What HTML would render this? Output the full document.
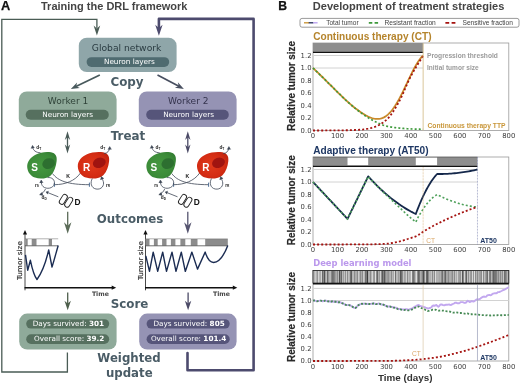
<!DOCTYPE html>
<html lang="en"><head><meta charset="utf-8"><title>DRL framework figure</title>
<style>
html,body{margin:0;padding:0;background:#fff;}
body{width:520px;height:384px;overflow:hidden;font-family:"Liberation Sans","DejaVu Sans",sans-serif;}
svg{display:block;}
</style></head><body>
<svg width="520" height="384" viewBox="0 0 520 384">
<defs>
<radialGradient id="gS" cx="0.45" cy="0.5" r="0.6"><stop offset="0" stop-color="#45983f"/><stop offset="0.7" stop-color="#3c8c39"/><stop offset="1" stop-color="#347f33"/></radialGradient>
<radialGradient id="gR" cx="0.45" cy="0.5" r="0.6"><stop offset="0" stop-color="#e03a1c"/><stop offset="0.7" stop-color="#d42c13"/><stop offset="1" stop-color="#c0240f"/></radialGradient>
</defs>
<rect width="520" height="384" fill="#ffffff"/>
<text x="0.9" y="9.9" font-family='"Liberation Sans", "DejaVu Sans", sans-serif' font-weight="700" font-size="12.8" fill="#111" stroke="#111" stroke-width="0.25">A</text>
<text x="41" y="10" font-family='"Liberation Sans", "DejaVu Sans", sans-serif' font-weight="700" font-size="11.05" fill="#444" textLength="146.5" lengthAdjust="spacingAndGlyphs">Training the DRL framework</text>
<path d="M67.4 352.5 V372 H1.8 V19.4 H96.9 V28" fill="none" stroke="#4a5c55" stroke-width="1.3"/>
<path d="M96.90 35.60 L93.60 25.60 L96.90 28.60 L100.20 25.60 Z" fill="#4a5c55"/>
<path d="M187.5 353 V370.2 H253.6 V18.9 H158.9 V28" fill="none" stroke="#4d4b6e" stroke-width="2.6" stroke-linejoin="round" stroke-linecap="round"/>
<path d="M158.90 35.80 L155.20 24.80 L158.90 28.10 L162.60 24.80 Z" fill="#4d4b6e"/>
<rect x="78.8" y="37.7" width="97.80" height="34.30" rx="8" ry="8" fill="#8fa6a9"/>
<text x="126.6" y="51.2" font-family='"DejaVu Sans", "Liberation Sans", sans-serif' font-weight="400" font-size="9.2" fill="#2a3b41" text-anchor="middle" >Global network</text>
<rect x="86.6" y="57.2" width="82.60" height="9.70" rx="4.85" ry="4.85" fill="#4f6b70"/>
<text x="129.4" y="64" font-family='"DejaVu Sans", "Liberation Sans", sans-serif' font-weight="400" font-size="7.3" fill="#fff" text-anchor="middle" >Neuron layers</text>
<text x="127" y="85.7" font-family='"DejaVu Sans", "Liberation Sans", sans-serif' font-weight="700" font-size="11.9" fill="#4a5c66" text-anchor="middle" >Copy</text>
<line x1="99.8" y1="74.9" x2="75.39" y2="86.68" stroke="#48595c" stroke-width="1.7"/>
<path d="M70.80 88.90 L77.11 82.41 L76.16 86.31 L79.80 88.00 Z" fill="#48595c"/>
<line x1="157.5" y1="74.9" x2="179.39" y2="86.51" stroke="#484f60" stroke-width="1.7"/>
<path d="M183.90 88.90 L174.94 87.66 L178.64 86.11 L177.84 82.18 Z" fill="#484f60"/>
<rect x="18.8" y="91.5" width="97.80" height="35.40" rx="8" ry="8" fill="#8faa9a"/>
<text x="68" y="104.3" font-family='"DejaVu Sans", "Liberation Sans", sans-serif' font-weight="400" font-size="9.05" fill="#2f4238" text-anchor="middle" >Worker 1</text>
<rect x="25.7" y="109.8" width="83.10" height="10.00" rx="5.00" ry="5.00" fill="#56705f"/>
<text x="67.7" y="116.9" font-family='"DejaVu Sans", "Liberation Sans", sans-serif' font-weight="400" font-size="7.3" fill="#fff" text-anchor="middle" >Neuron layers</text>
<rect x="138.8" y="91.5" width="97.80" height="35.40" rx="8" ry="8" fill="#9593b4"/>
<text x="188.3" y="104.3" font-family='"DejaVu Sans", "Liberation Sans", sans-serif' font-weight="400" font-size="9.05" fill="#34334d" text-anchor="middle" >Worker 2</text>
<rect x="146.2" y="109.8" width="82.60" height="10.00" rx="5.00" ry="5.00" fill="#56557a"/>
<text x="188.6" y="116.9" font-family='"DejaVu Sans", "Liberation Sans", sans-serif' font-weight="400" font-size="7.3" fill="#fff" text-anchor="middle" >Neuron layers</text>
<text x="128" y="140.2" font-family='"DejaVu Sans", "Liberation Sans", sans-serif' font-weight="700" font-size="11.9" fill="#4a5c66" text-anchor="middle" >Treat</text>
<line x1="67.5" y1="136.2" x2="67.5" y2="148.4" stroke="#4a5b58" stroke-width="1.3"/>
<path d="M67.50 131.20 L70.20 140.00 L67.50 137.36 L64.80 140.00 Z" fill="#4a5b58"/>
<path d="M67.50 153.40 L64.80 144.60 L67.50 147.24 L70.20 144.60 Z" fill="#4a5b58"/>
<line x1="187.8" y1="136.2" x2="187.8" y2="148.4" stroke="#4b4a66" stroke-width="1.3"/>
<path d="M187.80 131.20 L190.50 140.00 L187.80 137.36 L185.10 140.00 Z" fill="#4b4a66"/>
<path d="M187.80 153.40 L185.10 144.60 L187.80 147.24 L190.50 144.60 Z" fill="#4b4a66"/>
<g transform="translate(0,0)">
<path d="M52.5 173.5 C58 181 68 184.6 89.2 184.7" fill="none" stroke="#3d4655" stroke-width="0.8"/>
<line x1="89.4" y1="182.6" x2="89.4" y2="186.8" stroke="#3b5f8a" stroke-width="0.9"/>
<path d="M80.5 173 C75 181 65 184.6 54.6 184.7" fill="none" stroke="#3d4655" stroke-width="0.8"/>
<line x1="54.4" y1="182.6" x2="54.4" y2="186.8" stroke="#3b5f8a" stroke-width="0.9"/>
<path d="M27.2 167 C26.9 161.2 31 156.8 36 154.4 C40 152.4 46 151.4 51 152.3 C55.6 153.2 57.3 156.4 56.6 161.2 C55.9 166.5 54.5 171.5 51 175.2 C47.5 178.8 40 179.3 35 177.6 C30.5 176 27.5 172 27.2 167 Z" fill="url(#gS)"/>
<ellipse cx="48.6" cy="163.6" rx="6.4" ry="5.3" fill="#2d6f30" transform="rotate(-20 48.6 163.6)"/>
<text x="34.6" y="170.9" font-family='"Liberation Sans", "DejaVu Sans", sans-serif' font-weight="700" font-size="10" fill="#fff" text-anchor="middle">S</text>
<path d="M77.8 166.5 C77.5 160.8 82 156.4 87 154.2 C91.5 152.3 98 151.4 103 152.3 C107.9 153.2 109.7 156.4 109.1 161.2 C108.4 166.5 107 171.5 103.3 175.2 C99.8 178.8 91.5 179.3 86 177.6 C81.3 176 78.1 171.8 77.8 166.5 Z" fill="url(#gR)"/>
<ellipse cx="99.3" cy="162.8" rx="6.6" ry="5" fill="#a01410" transform="rotate(-20 99.3 162.8)"/>
<text x="86.6" y="170.9" font-family='"Liberation Sans", "DejaVu Sans", sans-serif' font-weight="700" font-size="10" fill="#fff" text-anchor="middle">R</text>
<path d="M40.5 152.8 C36 152.6 33 150.5 32.6 146.8" fill="none" stroke="#3d4655" stroke-width="0.8"/>
<path d="M31 148.4 L32.5 145.4 L34.4 148" fill="#3d4655" stroke="#3d4655" stroke-width="0.5"/>
<text x="36.3" y="149.3" font-family='"Liberation Sans", "DejaVu Sans", sans-serif' font-weight="700" font-size="4.8" fill="#222">d<tspan font-size="3.2" dy="0.6">T</tspan></text>
<path d="M104 153.6 C107.5 153.2 109.3 151 109.6 148" fill="none" stroke="#3d4655" stroke-width="0.8"/>
<path d="M108 149.6 L109.7 146.6 L111.4 149.4" fill="#3d4655" stroke="#3d4655" stroke-width="0.5"/>
<text x="100.2" y="149" font-family='"Liberation Sans", "DejaVu Sans", sans-serif' font-weight="700" font-size="4.8" fill="#222">d<tspan font-size="3.2" dy="0.6">T</tspan></text>
<text x="66.3" y="177.5" font-family='"Liberation Sans", "DejaVu Sans", sans-serif' font-weight="700" font-size="5.2" fill="#222">K</text>
<path d="M47.5 177.6 C52 177 55.2 180 54.3 184 C53.4 188.3 46.5 189.8 43 186.5 C41.7 185.2 41.3 183.5 41.3 181.6" fill="none" stroke="#3d4655" stroke-width="0.8"/>
<path d="M39.7 183 L41.2 180 L43 182.8" fill="#3d4655" stroke="#3d4655" stroke-width="0.5"/>
<text x="35" y="186.6" font-family='"Liberation Sans", "DejaVu Sans", sans-serif' font-weight="700" font-size="4.6" fill="#222">r<tspan font-size="3.2" dy="0.6">S</tspan></text>
<path d="M92.3 178.6 C90 182.5 91 188 96 189 C101.5 190 104.5 185.5 103.3 181.5 C102.9 180 102.3 178.8 101.6 177.8" fill="none" stroke="#3d4655" stroke-width="0.8"/>
<path d="M100.6 180 L101.3 176.6 L103.9 178.6" fill="#3d4655" stroke="#3d4655" stroke-width="0.5"/>
<text x="106" y="186.6" font-family='"Liberation Sans", "DejaVu Sans", sans-serif' font-weight="700" font-size="4.6" fill="#222">r<tspan font-size="3.2" dy="0.6">R</tspan></text>
<path d="M45.5 189 C44 192 42.5 193.5 40.4 194.3" fill="none" stroke="#3d4655" stroke-width="0.8"/>
<path d="M42.2 192.3 L39.6 194.7 L43 195.4" fill="#3d4655" stroke="#3d4655" stroke-width="0.5"/>
<text x="41.5" y="199" font-family='"Liberation Sans", "DejaVu Sans", sans-serif' font-weight="700" font-size="4.8" fill="#222">d<tspan font-size="3.2" dy="0.6">D</tspan></text>
<line x1="58.3" y1="196.8" x2="47" y2="192.3" stroke="#3d4655" stroke-width="0.8"/>
<path d="M48.6 191.2 L46 191.9 L47.7 194.2" fill="#3d4655" stroke="#3d4655" stroke-width="0.5"/>
<g transform="rotate(-58 63.3 199.4)"><rect x="57.9" y="196.9" width="10.8" height="5" rx="2.5" fill="#fff" stroke="#222" stroke-width="0.9"/></g>
<g transform="rotate(-58 68.7 202.2)"><rect x="63.3" y="199.7" width="10.8" height="5" rx="2.5" fill="#fff" stroke="#222" stroke-width="0.9"/></g>
<text x="74.6" y="205.3" font-family='"Liberation Sans", "DejaVu Sans", sans-serif' font-weight="700" font-size="8.4" fill="#111">D</text>
</g>
<g transform="translate(119.2,0)">
<path d="M52.5 173.5 C58 181 68 184.6 89.2 184.7" fill="none" stroke="#3d4655" stroke-width="0.8"/>
<line x1="89.4" y1="182.6" x2="89.4" y2="186.8" stroke="#3b5f8a" stroke-width="0.9"/>
<path d="M80.5 173 C75 181 65 184.6 54.6 184.7" fill="none" stroke="#3d4655" stroke-width="0.8"/>
<line x1="54.4" y1="182.6" x2="54.4" y2="186.8" stroke="#3b5f8a" stroke-width="0.9"/>
<path d="M27.2 167 C26.9 161.2 31 156.8 36 154.4 C40 152.4 46 151.4 51 152.3 C55.6 153.2 57.3 156.4 56.6 161.2 C55.9 166.5 54.5 171.5 51 175.2 C47.5 178.8 40 179.3 35 177.6 C30.5 176 27.5 172 27.2 167 Z" fill="url(#gS)"/>
<ellipse cx="48.6" cy="163.6" rx="6.4" ry="5.3" fill="#2d6f30" transform="rotate(-20 48.6 163.6)"/>
<text x="34.6" y="170.9" font-family='"Liberation Sans", "DejaVu Sans", sans-serif' font-weight="700" font-size="10" fill="#fff" text-anchor="middle">S</text>
<path d="M77.8 166.5 C77.5 160.8 82 156.4 87 154.2 C91.5 152.3 98 151.4 103 152.3 C107.9 153.2 109.7 156.4 109.1 161.2 C108.4 166.5 107 171.5 103.3 175.2 C99.8 178.8 91.5 179.3 86 177.6 C81.3 176 78.1 171.8 77.8 166.5 Z" fill="url(#gR)"/>
<ellipse cx="99.3" cy="162.8" rx="6.6" ry="5" fill="#a01410" transform="rotate(-20 99.3 162.8)"/>
<text x="86.6" y="170.9" font-family='"Liberation Sans", "DejaVu Sans", sans-serif' font-weight="700" font-size="10" fill="#fff" text-anchor="middle">R</text>
<path d="M40.5 152.8 C36 152.6 33 150.5 32.6 146.8" fill="none" stroke="#3d4655" stroke-width="0.8"/>
<path d="M31 148.4 L32.5 145.4 L34.4 148" fill="#3d4655" stroke="#3d4655" stroke-width="0.5"/>
<text x="36.3" y="149.3" font-family='"Liberation Sans", "DejaVu Sans", sans-serif' font-weight="700" font-size="4.8" fill="#222">d<tspan font-size="3.2" dy="0.6">T</tspan></text>
<path d="M104 153.6 C107.5 153.2 109.3 151 109.6 148" fill="none" stroke="#3d4655" stroke-width="0.8"/>
<path d="M108 149.6 L109.7 146.6 L111.4 149.4" fill="#3d4655" stroke="#3d4655" stroke-width="0.5"/>
<text x="100.2" y="149" font-family='"Liberation Sans", "DejaVu Sans", sans-serif' font-weight="700" font-size="4.8" fill="#222">d<tspan font-size="3.2" dy="0.6">T</tspan></text>
<text x="66.3" y="177.5" font-family='"Liberation Sans", "DejaVu Sans", sans-serif' font-weight="700" font-size="5.2" fill="#222">K</text>
<path d="M47.5 177.6 C52 177 55.2 180 54.3 184 C53.4 188.3 46.5 189.8 43 186.5 C41.7 185.2 41.3 183.5 41.3 181.6" fill="none" stroke="#3d4655" stroke-width="0.8"/>
<path d="M39.7 183 L41.2 180 L43 182.8" fill="#3d4655" stroke="#3d4655" stroke-width="0.5"/>
<text x="35" y="186.6" font-family='"Liberation Sans", "DejaVu Sans", sans-serif' font-weight="700" font-size="4.6" fill="#222">r<tspan font-size="3.2" dy="0.6">S</tspan></text>
<path d="M92.3 178.6 C90 182.5 91 188 96 189 C101.5 190 104.5 185.5 103.3 181.5 C102.9 180 102.3 178.8 101.6 177.8" fill="none" stroke="#3d4655" stroke-width="0.8"/>
<path d="M100.6 180 L101.3 176.6 L103.9 178.6" fill="#3d4655" stroke="#3d4655" stroke-width="0.5"/>
<text x="106" y="186.6" font-family='"Liberation Sans", "DejaVu Sans", sans-serif' font-weight="700" font-size="4.6" fill="#222">r<tspan font-size="3.2" dy="0.6">R</tspan></text>
<path d="M45.5 189 C44 192 42.5 193.5 40.4 194.3" fill="none" stroke="#3d4655" stroke-width="0.8"/>
<path d="M42.2 192.3 L39.6 194.7 L43 195.4" fill="#3d4655" stroke="#3d4655" stroke-width="0.5"/>
<text x="41.5" y="199" font-family='"Liberation Sans", "DejaVu Sans", sans-serif' font-weight="700" font-size="4.8" fill="#222">d<tspan font-size="3.2" dy="0.6">D</tspan></text>
<line x1="58.3" y1="196.8" x2="47" y2="192.3" stroke="#3d4655" stroke-width="0.8"/>
<path d="M48.6 191.2 L46 191.9 L47.7 194.2" fill="#3d4655" stroke="#3d4655" stroke-width="0.5"/>
<g transform="rotate(-58 63.3 199.4)"><rect x="57.9" y="196.9" width="10.8" height="5" rx="2.5" fill="#fff" stroke="#222" stroke-width="0.9"/></g>
<g transform="rotate(-58 68.7 202.2)"><rect x="63.3" y="199.7" width="10.8" height="5" rx="2.5" fill="#fff" stroke="#222" stroke-width="0.9"/></g>
<text x="74.6" y="205.3" font-family='"Liberation Sans", "DejaVu Sans", sans-serif' font-weight="700" font-size="8.4" fill="#111">D</text>
</g>
<line x1="67.7" y1="211.8" x2="67.7" y2="226.80" stroke="#5b6b58" stroke-width="1.3"/>
<path d="M67.70 233.70 L64.00 222.20 L67.70 225.65 L71.40 222.20 Z" fill="#5b6b58"/>
<line x1="187.8" y1="211.8" x2="187.8" y2="226.80" stroke="#55546f" stroke-width="1.3"/>
<path d="M187.80 233.70 L184.10 222.20 L187.80 225.65 L191.50 222.20 Z" fill="#55546f"/>
<text x="130.1" y="222.6" font-family='"DejaVu Sans", "Liberation Sans", sans-serif' font-weight="700" font-size="11.8" fill="#4a5c66" text-anchor="middle" >Outcomes</text>
<line x1="25" y1="287.7" x2="25" y2="233" stroke="#333" stroke-width="0.9"/>
<path d="M22.9 234.5 L25 230 L27.1 234.5 Z" fill="#111"/>
<line x1="24.5" y1="287.7" x2="113.2" y2="287.7" stroke="#111" stroke-width="1.4"/>
<line x1="25" y1="287.7" x2="25" y2="290.3" stroke="#111" stroke-width="0.8"/>
<path d="M111.7 285.59999999999997 L116.2 287.7 L111.7 289.8 Z" fill="#111"/>
<rect x="25.5" y="239" width="2.20" height="6.6" fill="#8c8c8c"/>
<rect x="31.7" y="239" width="4.80" height="6.6" fill="#8c8c8c"/>
<rect x="48.7" y="239" width="3.30" height="6.6" fill="#8c8c8c"/>
<line x1="25" y1="238.8" x2="58.2" y2="238.8" stroke="#666" stroke-width="0.5"/>
<line x1="25" y1="245.8" x2="58.2" y2="245.8" stroke="#333" stroke-width="0.7"/>
<path d="M25.5 254.8 L27.7 270.2 L30.4 260.3 C32 268 34 275.5 37 279.5 C41 274 45.5 264 48.7 249.9 L52 267 C54 261 56 253 58.2 245.5" fill="none" stroke="#1b2c52" stroke-width="1.4" stroke-linejoin="round"/>
<text transform="translate(22.1,260.6) rotate(-90)" font-family='"DejaVu Sans", "Liberation Sans", sans-serif' font-size="6.8" fill="#2a2a2a" stroke="#2a2a2a" stroke-width="0.15" text-anchor="middle" textLength="39" lengthAdjust="spacingAndGlyphs">Tumor size</text>
<text x="100.4" y="296.4" font-family='"DejaVu Sans", "Liberation Sans", sans-serif' font-weight="700" font-size="6.2" fill="#444" text-anchor="middle">Time</text>
<line x1="145.5" y1="287.7" x2="145.5" y2="233" stroke="#333" stroke-width="0.9"/>
<path d="M143.4 234.5 L145.5 230 L147.6 234.5 Z" fill="#111"/>
<line x1="145.0" y1="287.7" x2="234.3" y2="287.7" stroke="#111" stroke-width="1.4"/>
<line x1="145.5" y1="287.7" x2="145.5" y2="290.3" stroke="#111" stroke-width="0.8"/>
<path d="M232.8 285.59999999999997 L237.3 287.7 L232.8 289.8 Z" fill="#111"/>
<rect x="145.5" y="239" width="4.00" height="6.6" fill="#8c8c8c"/>
<rect x="153.9" y="239" width="3.80" height="6.6" fill="#8c8c8c"/>
<rect x="162.1" y="239" width="4.40" height="6.6" fill="#8c8c8c"/>
<rect x="170.9" y="239" width="4.50" height="6.6" fill="#8c8c8c"/>
<rect x="180.4" y="239" width="4.90" height="6.6" fill="#8c8c8c"/>
<rect x="190.8" y="239" width="6.70" height="6.6" fill="#8c8c8c"/>
<rect x="205.2" y="239" width="22.60" height="6.6" fill="#8c8c8c"/>
<line x1="145.5" y1="238.8" x2="227.8" y2="238.8" stroke="#666" stroke-width="0.5"/>
<line x1="145.5" y1="245.8" x2="227.8" y2="245.8" stroke="#333" stroke-width="0.7"/>
<path d="M145.8 255.9 L149.5 271.4 L153.2 252.1 L157.7 271.4 L162.7 252.1 L166.5 271.4 L172.0 252.1 L176.0 271.4 L181.3 252.1 L185.3 271.4 L191.9 252.1 L197.5 269.1 L205.2 252.1 C207.4 259.2 209.6 262.5 213.6 262.5 C219.6 262.1 224.7 253.7 227.8 245.5" fill="none" stroke="#1b2c52" stroke-width="1.4" stroke-linejoin="round"/>
<text transform="translate(142.6,260.6) rotate(-90)" font-family='"DejaVu Sans", "Liberation Sans", sans-serif' font-size="6.8" fill="#2a2a2a" stroke="#2a2a2a" stroke-width="0.15" text-anchor="middle" textLength="39" lengthAdjust="spacingAndGlyphs">Tumor size</text>
<text x="221.5" y="296.4" font-family='"DejaVu Sans", "Liberation Sans", sans-serif' font-weight="700" font-size="6.2" fill="#444" text-anchor="middle">Time</text>
<line x1="67.7" y1="292.5" x2="67.7" y2="304.50" stroke="#4e5f4c" stroke-width="1.3"/>
<path d="M67.70 310.20 L64.50 300.70 L67.70 303.55 L70.90 300.70 Z" fill="#4e5f4c"/>
<line x1="188.1" y1="292.5" x2="188.1" y2="304.50" stroke="#4b4a66" stroke-width="1.3"/>
<path d="M188.10 310.20 L184.90 300.70 L188.10 303.55 L191.30 300.70 Z" fill="#4b4a66"/>
<text x="129.5" y="308.1" font-family='"DejaVu Sans", "Liberation Sans", sans-serif' font-weight="700" font-size="11.9" fill="#4a5c66" text-anchor="middle" >Score</text>
<rect x="19.2" y="313.6" width="97.40" height="36.00" rx="8" ry="8" fill="#8faa9a"/>
<rect x="26.2" y="319.2" width="83.00" height="9.30" rx="4.65" ry="4.65" fill="#56705f"/>
<rect x="26.2" y="334.3" width="83.00" height="9.70" rx="4.85" ry="4.85" fill="#56705f"/>
<text x="68.4" y="325.7" font-family='"DejaVu Sans", "Liberation Sans", sans-serif' font-size="7.25" fill="#fff" text-anchor="middle">Days survived: <tspan font-weight="700">301</tspan></text>
<text x="69.2" y="341.2" font-family='"DejaVu Sans", "Liberation Sans", sans-serif' font-size="7.25" fill="#fff" text-anchor="middle">Overall score: <tspan font-weight="700">39.2</tspan></text>
<rect x="139.2" y="313.6" width="97.40" height="36.00" rx="8" ry="8" fill="#9593b4"/>
<rect x="146.6" y="319.2" width="83.10" height="9.30" rx="4.65" ry="4.65" fill="#56557a"/>
<rect x="146.6" y="334.3" width="83.10" height="9.70" rx="4.85" ry="4.85" fill="#56557a"/>
<text x="189.1" y="325.7" font-family='"DejaVu Sans", "Liberation Sans", sans-serif' font-size="7.25" fill="#fff" text-anchor="middle">Days survived: <tspan font-weight="700">805</tspan></text>
<text x="188.6" y="341.2" font-family='"DejaVu Sans", "Liberation Sans", sans-serif' font-size="7.25" fill="#fff" text-anchor="middle">Overall score: <tspan font-weight="700">101.4</tspan></text>
<text x="129" y="361.8" font-family='"DejaVu Sans", "Liberation Sans", sans-serif' font-weight="700" font-size="11.75" fill="#4a5c66" text-anchor="middle" >Weighted</text>
<text x="129.3" y="376.8" font-family='"DejaVu Sans", "Liberation Sans", sans-serif' font-weight="700" font-size="11.75" fill="#4a5c66" text-anchor="middle" >update</text>
<text x="278.2" y="9.9" font-family='"Liberation Sans", "DejaVu Sans", sans-serif' font-weight="700" font-size="12.2" fill="#111" stroke="#111" stroke-width="0.25">B</text>
<text x="312.8" y="9.9" font-family='"Liberation Sans", "DejaVu Sans", sans-serif' font-weight="700" font-size="11.05" fill="#444" textLength="191.5" lengthAdjust="spacingAndGlyphs">Development of treatment strategies</text>
<rect x="300" y="18.4" width="219" height="8.8" rx="2" fill="#fff" stroke="#707070" stroke-width="0.7"/>
<line x1="304" y1="22.8" x2="309" y2="22.8" stroke="#c8902c" stroke-width="1.3"/>
<line x1="308.7" y1="22.8" x2="313.3" y2="22.8" stroke="#1f2a55" stroke-width="1.3"/>
<line x1="313" y1="22.8" x2="317.6" y2="22.8" stroke="#b79cf0" stroke-width="1.3"/>
<text x="326.2" y="25" font-family='"Liberation Sans", "DejaVu Sans", sans-serif' font-size="6.55" fill="#444">Total tumor</text>
<line x1="368.8" y1="22.9" x2="378.2" y2="22.9" stroke="#3f9a3c" stroke-width="1.7" stroke-dasharray="3.5 2.3"/>
<text x="384.5" y="25" font-family='"Liberation Sans", "DejaVu Sans", sans-serif' font-size="6.65" fill="#444">Resistant fraction</text>
<line x1="445.4" y1="22.9" x2="455.6" y2="22.9" stroke="#a51310" stroke-width="1.7" stroke-dasharray="3.8 2.4"/>
<text x="462.5" y="25" font-family='"Liberation Sans", "DejaVu Sans", sans-serif' font-size="6.63" fill="#444">Sensitive fraction</text>
<text x="313.2" y="39.8" font-family='"Liberation Sans", "DejaVu Sans", sans-serif' font-weight="700" font-size="10.1" fill="#b5842c">Continuous therapy (CT)</text>
<rect x="313.0" y="43" width="195.8" height="87.5" fill="#fff"/>
<rect x="313.0" y="43" width="195.8" height="87.5" fill="none" stroke="#9a9a9a" stroke-width="0.8"/>
<line x1="313.0" y1="55.50" x2="423.14" y2="55.50" stroke="#d2d2d2" stroke-width="1"/>
<line x1="313.0" y1="68.00" x2="423.14" y2="68.00" stroke="#d2d2d2" stroke-width="1"/>
<rect x="313.00" y="43" width="110.14" height="8.3" fill="#8e8e8e"/>
<line x1="313.0" y1="52.199999999999996" x2="423.14" y2="52.199999999999996" stroke="#111" stroke-width="1.6"/>
<path d="M313.00 68.00 L314.22 69.15 L315.45 70.32 L316.67 71.49 L317.89 72.67 L319.12 73.85 L320.34 75.05 L321.57 76.25 L322.79 77.45 L324.01 78.66 L325.24 79.88 L326.46 81.09 L327.69 82.31 L328.91 83.53 L330.13 84.75 L331.36 85.97 L332.58 87.20 L333.80 88.42 L335.03 89.63 L336.25 90.85 L337.48 92.06 L338.70 93.27 L339.92 94.47 L341.15 95.67 L342.37 96.85 L343.59 98.02 L344.82 99.18 L346.04 100.32 L347.26 101.44 L348.49 102.54 L349.71 103.62 L350.94 104.68 L352.16 105.71 L353.38 106.72 L354.61 107.70 L355.83 108.65 L357.06 109.58 L358.28 110.47 L359.50 111.35 L360.73 112.19 L361.95 113.00 L363.17 113.78 L364.40 114.53 L365.62 115.24 L366.85 115.90 L368.07 116.51 L369.29 117.07 L370.52 117.56 L371.74 117.99 L372.96 118.35 L374.19 118.62 L375.41 118.82 L376.63 118.93 L377.86 118.94 L379.08 118.86 L380.31 118.66 L381.53 118.35 L382.75 117.91 L383.98 117.35 L385.20 116.65 L386.43 115.81 L387.65 114.83 L388.87 113.70 L390.10 112.43 L391.32 111.02 L392.54 109.48 L393.77 107.80 L394.99 106.00 L396.22 104.08 L397.44 102.04 L398.66 99.88 L399.89 97.60 L401.11 95.24 L402.33 92.79 L403.56 90.28 L404.78 87.73 L406.00 85.15 L407.23 82.55 L408.45 79.97 L409.68 77.40 L410.90 74.88 L412.12 72.41 L413.35 70.01 L414.57 67.70 L415.80 65.50 L417.02 63.43 L418.24 61.49 L419.47 59.71 L420.69 58.11 L421.91 56.70 L423.14 55.50" fill="none" stroke="#c98a2b" stroke-width="1.8"/>
<path d="M313.00 68.00 L314.22 69.17 L315.45 70.35 L316.67 71.53 L317.89 72.71 L319.12 73.90 L320.34 75.09 L321.57 76.28 L322.79 77.48 L324.01 78.67 L325.24 79.88 L326.46 81.08 L327.69 82.30 L328.91 83.53 L330.13 84.76 L331.36 85.99 L332.58 87.22 L333.80 88.44 L335.03 89.66 L336.25 90.87 L337.48 92.06 L338.70 93.25 L339.92 94.44 L341.15 95.63 L342.37 96.82 L343.59 98.00 L344.82 99.16 L346.04 100.31 L347.26 101.44 L348.49 102.55 L349.71 103.62 L350.94 104.69 L352.16 105.74 L353.38 106.78 L354.61 107.81 L355.83 108.82 L357.06 109.81 L358.28 110.77 L359.50 111.71 L360.73 112.62 L361.95 113.50 L363.17 114.36 L364.40 115.20 L365.62 116.03 L366.85 116.84 L368.07 117.63 L369.29 118.40 L370.52 119.13 L371.74 119.83 L372.96 120.50 L374.19 121.12 L375.41 121.73 L376.63 122.33 L377.86 122.92 L379.08 123.49 L380.31 124.04 L381.53 124.55 L382.75 125.02 L383.98 125.45 L385.20 125.82 L386.43 126.12 L387.65 126.39 L388.87 126.63 L390.10 126.85 L391.32 127.06 L392.54 127.25 L393.77 127.42 L394.99 127.58 L396.22 127.73 L397.44 127.87 L398.66 128.00 L399.89 128.12 L401.11 128.24 L402.33 128.36 L403.56 128.47 L404.78 128.57 L406.00 128.66 L407.23 128.74 L408.45 128.82 L409.68 128.88 L410.90 128.94 L412.12 128.98 L413.35 129.03 L414.57 129.07 L415.80 129.12 L417.02 129.15 L418.24 129.19 L419.47 129.21 L420.69 129.23 L421.91 129.25 L423.14 129.25" fill="none" stroke="#3f9a3c" stroke-width="1.7" stroke-dasharray="2 2.1"/>
<path d="M313.00 130.50 L314.22 130.50 L315.45 130.50 L316.67 130.50 L317.89 130.49 L319.12 130.49 L320.34 130.49 L321.57 130.48 L322.79 130.48 L324.01 130.47 L325.24 130.46 L326.46 130.46 L327.69 130.45 L328.91 130.44 L330.13 130.43 L331.36 130.42 L332.58 130.41 L333.80 130.40 L335.03 130.39 L336.25 130.38 L337.48 130.38 L338.70 130.36 L339.92 130.35 L341.15 130.34 L342.37 130.32 L343.59 130.30 L344.82 130.29 L346.04 130.26 L347.26 130.24 L348.49 130.22 L349.71 130.19 L350.94 130.16 L352.16 130.12 L353.38 130.07 L354.61 130.02 L355.83 129.96 L357.06 129.90 L358.28 129.83 L359.50 129.75 L360.73 129.66 L361.95 129.56 L363.17 129.44 L364.40 129.29 L365.62 129.11 L366.85 128.89 L368.07 128.65 L369.29 128.38 L370.52 128.08 L371.74 127.77 L372.96 127.42 L374.19 127.06 L375.41 126.65 L376.63 126.17 L377.86 125.61 L379.08 124.98 L380.31 124.28 L381.53 123.52 L382.75 122.69 L383.98 121.81 L385.20 120.87 L386.43 119.88 L387.65 118.75 L388.87 117.42 L390.10 115.92 L391.32 114.26 L392.54 112.48 L393.77 110.58 L394.99 108.60 L396.22 106.56 L397.44 104.47 L398.66 102.38 L399.89 100.14 L401.11 97.68 L402.33 95.05 L403.56 92.29 L404.78 89.46 L406.00 86.62 L407.23 83.81 L408.45 81.09 L409.68 78.51 L410.90 76.12 L412.12 73.88 L413.35 71.68 L414.57 69.53 L415.80 67.44 L417.02 65.40 L418.24 63.42 L419.47 61.50 L420.69 59.64 L421.91 57.85 L423.14 56.12" fill="none" stroke="#a51310" stroke-width="1.8" stroke-dasharray="2 2.1"/>
<line x1="423.14" y1="43" x2="423.14" y2="130.5" stroke="#d6c08e" stroke-width="0.9"/>
<text x="427" y="57.6" font-family='"Liberation Sans", "DejaVu Sans", sans-serif' font-weight="700" font-size="6.65" fill="#9a9a9a" text-anchor="start" >Progression threshold</text>
<text x="427" y="70" font-family='"Liberation Sans", "DejaVu Sans", sans-serif' font-weight="700" font-size="6.56" fill="#9a9a9a" text-anchor="start" >Initial tumor size</text>
<text x="427.5" y="127.8" font-family='"Liberation Sans", "DejaVu Sans", sans-serif' font-weight="700" font-size="6.72" fill="#c9973a" text-anchor="start" >Continuous therapy TTP</text>
<text x="311.5" y="132.90" font-family='"DejaVu Sans", "Liberation Sans", sans-serif' font-size="6.85" fill="#3c3c3c" text-anchor="end">0.0</text>
<text x="311.5" y="120.40" font-family='"DejaVu Sans", "Liberation Sans", sans-serif' font-size="6.85" fill="#3c3c3c" text-anchor="end">0.2</text>
<text x="311.5" y="107.90" font-family='"DejaVu Sans", "Liberation Sans", sans-serif' font-size="6.85" fill="#3c3c3c" text-anchor="end">0.4</text>
<text x="311.5" y="95.40" font-family='"DejaVu Sans", "Liberation Sans", sans-serif' font-size="6.85" fill="#3c3c3c" text-anchor="end">0.6</text>
<text x="311.5" y="82.90" font-family='"DejaVu Sans", "Liberation Sans", sans-serif' font-size="6.85" fill="#3c3c3c" text-anchor="end">0.8</text>
<text x="311.5" y="70.40" font-family='"DejaVu Sans", "Liberation Sans", sans-serif' font-size="6.85" fill="#3c3c3c" text-anchor="end">1.0</text>
<text x="311.5" y="57.90" font-family='"DejaVu Sans", "Liberation Sans", sans-serif' font-size="6.85" fill="#3c3c3c" text-anchor="end">1.2</text>
<text x="313.00" y="138" font-family='"DejaVu Sans", "Liberation Sans", sans-serif' font-size="6.85" fill="#3c3c3c" text-anchor="middle">0</text>
<text x="337.48" y="138" font-family='"DejaVu Sans", "Liberation Sans", sans-serif' font-size="6.85" fill="#3c3c3c" text-anchor="middle">100</text>
<text x="361.95" y="138" font-family='"DejaVu Sans", "Liberation Sans", sans-serif' font-size="6.85" fill="#3c3c3c" text-anchor="middle">200</text>
<text x="386.43" y="138" font-family='"DejaVu Sans", "Liberation Sans", sans-serif' font-size="6.85" fill="#3c3c3c" text-anchor="middle">300</text>
<text x="410.90" y="138" font-family='"DejaVu Sans", "Liberation Sans", sans-serif' font-size="6.85" fill="#3c3c3c" text-anchor="middle">400</text>
<text x="435.38" y="138" font-family='"DejaVu Sans", "Liberation Sans", sans-serif' font-size="6.85" fill="#3c3c3c" text-anchor="middle">500</text>
<text x="459.85" y="138" font-family='"DejaVu Sans", "Liberation Sans", sans-serif' font-size="6.85" fill="#3c3c3c" text-anchor="middle">600</text>
<text x="484.32" y="138" font-family='"DejaVu Sans", "Liberation Sans", sans-serif' font-size="6.85" fill="#3c3c3c" text-anchor="middle">700</text>
<text x="508.80" y="138" font-family='"DejaVu Sans", "Liberation Sans", sans-serif' font-size="6.85" fill="#3c3c3c" text-anchor="middle">800</text>
<text transform="translate(295.2,86) rotate(-90)" font-family='"Liberation Sans", "DejaVu Sans", sans-serif' font-weight="700" font-size="10.1" fill="#2a2a2a" stroke="#2a2a2a" stroke-width="0.2" text-anchor="middle" textLength="90" lengthAdjust="spacingAndGlyphs">Relative tumor size</text>
<text x="313.2" y="153.8" font-family='"Liberation Sans", "DejaVu Sans", sans-serif' font-weight="700" font-size="10.1" fill="#1f3864">Adaptive therapy (AT50)</text>
<rect x="313.0" y="157" width="195.8" height="87.5" fill="#fff"/>
<rect x="313.0" y="157" width="195.8" height="87.5" fill="none" stroke="#9a9a9a" stroke-width="0.8"/>
<line x1="313.0" y1="169.50" x2="477.47" y2="169.50" stroke="#d2d2d2" stroke-width="1"/>
<line x1="313.0" y1="182.00" x2="477.47" y2="182.00" stroke="#d2d2d2" stroke-width="1"/>
<rect x="313.00" y="157" width="34.51" height="8.3" fill="#8e8e8e"/>
<rect x="368.19" y="157" width="47.60" height="8.3" fill="#8e8e8e"/>
<rect x="437.09" y="157" width="40.38" height="8.3" fill="#8e8e8e"/>
<line x1="313.0" y1="166.20000000000002" x2="477.47" y2="166.20000000000002" stroke="#111" stroke-width="1.6"/>
<line x1="313.0" y1="157.2" x2="477.47" y2="157.2" stroke="#555" stroke-width="0.6"/>
<path d="M313.00 182.00 L314.50 183.60 L316.00 185.21 L317.50 186.81 L319.00 188.41 L320.50 190.02 L322.00 191.62 L323.50 193.22 L325.00 194.83 L326.50 196.43 L328.00 198.03 L329.50 199.64 L331.01 201.24 L332.51 202.84 L334.01 204.45 L335.51 206.05 L337.01 207.65 L338.51 209.26 L340.01 210.86 L341.51 212.46 L343.01 214.07 L344.51 215.67 L346.01 217.27 L347.51 218.88 L347.51 218.88 L348.41 217.03 L349.31 215.18 L350.21 213.33 L351.11 211.48 L352.01 209.64 L352.90 207.79 L353.80 205.94 L354.70 204.09 L355.60 202.24 L356.50 200.40 L357.40 198.55 L358.30 196.70 L359.20 194.85 L360.10 193.01 L361.00 191.16 L361.90 189.31 L362.80 187.46 L363.70 185.61 L364.59 183.77 L365.49 181.92 L366.39 180.07 L367.29 178.22 L368.19 176.38 L368.19 176.38 L370.26 178.63 L372.33 180.84 L374.40 182.98 L376.47 185.07 L378.54 187.11 L380.61 189.08 L382.68 191.00 L384.75 192.86 L386.82 194.67 L388.89 196.42 L390.96 198.11 L393.03 199.75 L395.10 201.33 L397.17 202.85 L399.24 204.32 L401.31 205.72 L403.38 207.08 L405.45 208.37 L407.52 209.61 L409.59 210.79 L411.66 211.92 L413.73 212.99 L415.80 214.00 L415.80 214.00 L416.72 211.53 L417.65 209.13 L418.57 206.80 L419.50 204.53 L420.42 202.33 L421.35 200.19 L422.28 198.12 L423.20 196.12 L424.13 194.18 L425.05 192.31 L425.98 190.50 L426.90 188.76 L427.83 187.09 L428.76 185.48 L429.68 183.94 L430.61 182.47 L431.53 181.06 L432.46 179.72 L433.39 178.44 L434.31 177.23 L435.24 176.09 L436.16 175.01 L437.09 174.00 L437.09 174.00 L438.84 174.01 L440.60 174.01 L442.36 173.98 L444.11 173.94 L445.87 173.87 L447.62 173.79 L449.38 173.69 L451.13 173.57 L452.89 173.43 L454.65 173.27 L456.40 173.10 L458.16 172.90 L459.91 172.69 L461.67 172.45 L463.43 172.20 L465.18 171.93 L466.94 171.64 L468.69 171.33 L470.45 171.00 L472.20 170.65 L473.96 170.29 L475.72 169.90 L477.47 169.50" fill="none" stroke="#15284b" stroke-width="1.8" stroke-linejoin="round"/>
<path d="M313.00 182.00 L314.50 183.60 L316.00 185.21 L317.50 186.81 L319.00 188.41 L320.50 190.02 L322.00 191.62 L323.50 193.23 L325.00 194.83 L326.50 196.43 L328.00 198.04 L329.50 199.64 L331.01 201.25 L332.51 202.85 L334.01 204.46 L335.51 206.06 L337.01 207.67 L338.51 209.27 L340.01 210.88 L341.51 212.48 L343.01 214.09 L344.51 215.69 L346.01 217.30 L347.51 218.90 L347.51 218.90 L348.41 217.06 L349.31 215.21 L350.21 213.37 L351.11 211.52 L352.01 209.67 L352.90 207.83 L353.80 205.98 L354.70 204.14 L355.60 202.29 L356.50 200.44 L357.40 198.60 L358.30 196.75 L359.20 194.91 L360.10 193.06 L361.00 191.22 L361.90 189.37 L362.80 187.53 L363.70 185.69 L364.59 183.85 L365.49 182.01 L366.39 180.17 L367.29 178.34 L368.19 176.50 L368.19 176.50 L370.26 178.80 L372.33 181.05 L374.40 183.24 L376.47 185.38 L378.54 187.48 L380.61 189.53 L382.68 191.54 L384.75 193.51 L386.82 195.45 L388.89 197.40 L390.96 199.39 L393.03 201.39 L395.10 203.38 L397.17 205.34 L399.24 207.26 L401.31 209.20 L403.38 211.17 L405.45 213.13 L407.52 215.06 L409.59 216.93 L411.66 218.71 L413.73 220.38 L415.80 222.12 L415.80 222.12 L416.72 220.10 L417.65 218.22 L418.57 216.48 L419.50 214.85 L420.42 213.31 L421.35 211.83 L422.28 210.39 L423.20 208.97 L424.13 207.59 L425.05 206.27 L425.98 205.01 L426.90 203.82 L427.83 202.69 L428.76 201.62 L429.68 200.61 L430.61 199.66 L431.53 198.77 L432.46 197.94 L433.39 197.16 L434.31 196.44 L435.24 195.78 L436.16 195.18 L437.09 194.62 L437.09 194.62 L438.84 195.49 L440.60 196.34 L442.36 197.16 L444.11 197.95 L445.87 198.71 L447.62 199.45 L449.38 200.15 L451.13 200.83 L452.89 201.48 L454.65 202.10 L456.40 202.68 L458.16 203.23 L459.91 203.75 L461.67 204.24 L463.43 204.69 L465.18 205.11 L466.94 205.49 L468.69 205.84 L470.45 206.15 L472.20 206.42 L473.96 206.65 L475.72 206.84 L477.47 207.00" fill="none" stroke="#4ea05a" stroke-width="1.6" stroke-dasharray="2 2.1"/>
<path d="M313.00 244.50 L314.47 244.50 L315.94 244.50 L317.41 244.50 L318.87 244.50 L320.34 244.50 L321.81 244.50 L323.28 244.50 L324.75 244.50 L326.22 244.50 L327.69 244.50 L329.15 244.49 L330.62 244.49 L332.09 244.49 L333.56 244.49 L335.03 244.49 L336.50 244.49 L337.96 244.49 L339.43 244.48 L340.90 244.48 L342.37 244.48 L343.84 244.48 L345.31 244.47 L346.78 244.47 L348.24 244.47 L349.71 244.47 L351.18 244.46 L352.65 244.46 L354.12 244.46 L355.59 244.45 L357.06 244.45 L358.52 244.45 L359.99 244.44 L361.46 244.44 L362.93 244.43 L364.40 244.42 L365.87 244.41 L367.33 244.39 L368.80 244.36 L370.27 244.33 L371.74 244.30 L373.21 244.27 L374.68 244.24 L376.15 244.20 L377.61 244.16 L379.08 244.11 L380.55 244.06 L382.02 243.99 L383.49 243.92 L384.96 243.84 L386.43 243.75 L387.89 243.63 L389.36 243.46 L390.83 243.24 L392.30 242.99 L393.77 242.72 L395.24 242.42 L396.70 242.11 L398.17 241.79 L399.64 241.46 L401.11 241.08 L402.58 240.65 L404.05 240.20 L405.52 239.72 L406.98 239.23 L408.45 238.73 L409.92 238.25 L411.39 237.79 L412.86 237.36 L414.33 236.92 L415.80 236.38 L417.26 235.64 L418.73 234.71 L420.20 233.68 L421.67 232.64 L423.14 231.69 L424.61 230.81 L426.07 229.93 L427.54 229.07 L429.01 228.22 L430.48 227.38 L431.95 226.56 L433.42 225.76 L434.89 224.99 L436.35 224.24 L437.82 223.52 L439.29 222.80 L440.76 222.09 L442.23 221.38 L443.70 220.68 L445.16 219.99 L446.63 219.30 L448.10 218.62 L449.57 217.95 L451.04 217.28 L452.51 216.62 L453.98 215.97 L455.44 215.33 L456.91 214.70 L458.38 214.07 L459.85 213.46 L461.32 212.86 L462.79 212.26 L464.26 211.68 L465.72 211.11 L467.19 210.55 L468.66 210.00 L470.13 209.47 L471.60 208.95 L473.07 208.44 L474.54 207.95 L476.00 207.47 L477.47 207.00" fill="none" stroke="#a51310" stroke-width="1.8" stroke-dasharray="2 2.1"/>
<line x1="423.14" y1="167.3" x2="423.14" y2="244.5" stroke="#d9b27a" stroke-width="0.7" stroke-dasharray="0.8 0.7"/>
<line x1="477.47" y1="157" x2="477.47" y2="244.5" stroke="#7f86b0" stroke-width="0.7" stroke-dasharray="0.8 0.7"/>
<text x="426.3" y="242.8" font-family='"Liberation Sans", "DejaVu Sans", sans-serif' font-weight="400" font-size="6.6" fill="#dba869" text-anchor="start" >CT</text>
<text x="480.3" y="242.8" font-family='"Liberation Sans", "DejaVu Sans", sans-serif' font-weight="700" font-size="7.0" fill="#1f3864" text-anchor="start" >AT50</text>
<text x="311.5" y="246.90" font-family='"DejaVu Sans", "Liberation Sans", sans-serif' font-size="6.85" fill="#3c3c3c" text-anchor="end">0.0</text>
<text x="311.5" y="234.40" font-family='"DejaVu Sans", "Liberation Sans", sans-serif' font-size="6.85" fill="#3c3c3c" text-anchor="end">0.2</text>
<text x="311.5" y="221.90" font-family='"DejaVu Sans", "Liberation Sans", sans-serif' font-size="6.85" fill="#3c3c3c" text-anchor="end">0.4</text>
<text x="311.5" y="209.40" font-family='"DejaVu Sans", "Liberation Sans", sans-serif' font-size="6.85" fill="#3c3c3c" text-anchor="end">0.6</text>
<text x="311.5" y="196.90" font-family='"DejaVu Sans", "Liberation Sans", sans-serif' font-size="6.85" fill="#3c3c3c" text-anchor="end">0.8</text>
<text x="311.5" y="184.40" font-family='"DejaVu Sans", "Liberation Sans", sans-serif' font-size="6.85" fill="#3c3c3c" text-anchor="end">1.0</text>
<text x="311.5" y="171.90" font-family='"DejaVu Sans", "Liberation Sans", sans-serif' font-size="6.85" fill="#3c3c3c" text-anchor="end">1.2</text>
<text x="313.00" y="252" font-family='"DejaVu Sans", "Liberation Sans", sans-serif' font-size="6.85" fill="#3c3c3c" text-anchor="middle">0</text>
<text x="337.48" y="252" font-family='"DejaVu Sans", "Liberation Sans", sans-serif' font-size="6.85" fill="#3c3c3c" text-anchor="middle">100</text>
<text x="361.95" y="252" font-family='"DejaVu Sans", "Liberation Sans", sans-serif' font-size="6.85" fill="#3c3c3c" text-anchor="middle">200</text>
<text x="386.43" y="252" font-family='"DejaVu Sans", "Liberation Sans", sans-serif' font-size="6.85" fill="#3c3c3c" text-anchor="middle">300</text>
<text x="410.90" y="252" font-family='"DejaVu Sans", "Liberation Sans", sans-serif' font-size="6.85" fill="#3c3c3c" text-anchor="middle">400</text>
<text x="435.38" y="252" font-family='"DejaVu Sans", "Liberation Sans", sans-serif' font-size="6.85" fill="#3c3c3c" text-anchor="middle">500</text>
<text x="459.85" y="252" font-family='"DejaVu Sans", "Liberation Sans", sans-serif' font-size="6.85" fill="#3c3c3c" text-anchor="middle">600</text>
<text x="484.32" y="252" font-family='"DejaVu Sans", "Liberation Sans", sans-serif' font-size="6.85" fill="#3c3c3c" text-anchor="middle">700</text>
<text x="508.80" y="252" font-family='"DejaVu Sans", "Liberation Sans", sans-serif' font-size="6.85" fill="#3c3c3c" text-anchor="middle">800</text>
<text transform="translate(295.2,200.2) rotate(-90)" font-family='"Liberation Sans", "DejaVu Sans", sans-serif' font-weight="700" font-size="10.1" fill="#2a2a2a" stroke="#2a2a2a" stroke-width="0.2" text-anchor="middle" textLength="90" lengthAdjust="spacingAndGlyphs">Relative tumor size</text>
<text x="313.2" y="265.7" font-family='"DejaVu Sans", "Liberation Sans", sans-serif' font-weight="700" font-size="8.4" fill="#bb98ec">Deep learning model</text>
<rect x="313.0" y="270.5" width="195.8" height="90.5" fill="#fff"/>
<rect x="313.0" y="270.5" width="195.8" height="90.5" fill="none" stroke="#9a9a9a" stroke-width="0.8"/>
<line x1="313.0" y1="288.40" x2="508.80" y2="288.40" stroke="#d2d2d2" stroke-width="1"/>
<line x1="313.0" y1="300.50" x2="508.80" y2="300.50" stroke="#d2d2d2" stroke-width="1"/>
<rect x="313.0" y="270.5" width="195.8" height="12.6" fill="#8b8b8b"/>
<rect x="313.40" y="270.5" width="0.70" height="12.6" fill="#f0f0f0"/><rect x="314.70" y="270.5" width="0.85" height="12.6" fill="#ffffff"/><rect x="316.15" y="270.5" width="0.45" height="12.6" fill="#e2e2e2"/><rect x="317.90" y="270.5" width="0.85" height="12.6" fill="#f0f0f0"/><rect x="319.55" y="270.5" width="0.70" height="12.6" fill="#e8e8e8"/><rect x="320.85" y="270.5" width="1.00" height="12.6" fill="#e2e2e2"/><rect x="322.45" y="270.5" width="0.55" height="12.6" fill="#505050"/><rect x="324.00" y="270.5" width="0.70" height="12.6" fill="#3c3c3c"/><rect x="325.70" y="270.5" width="1.00" height="12.6" fill="#d4d4d4"/><rect x="327.50" y="270.5" width="0.70" height="12.6" fill="#505050"/><rect x="328.80" y="270.5" width="0.55" height="12.6" fill="#ffffff"/><rect x="330.35" y="270.5" width="0.85" height="12.6" fill="#d4d4d4"/><rect x="331.80" y="270.5" width="0.55" height="12.6" fill="#3c3c3c"/><rect x="333.65" y="270.5" width="0.45" height="12.6" fill="#505050"/><rect x="335.80" y="270.5" width="0.55" height="12.6" fill="#e8e8e8"/><rect x="338.05" y="270.5" width="0.45" height="12.6" fill="#f0f0f0"/><rect x="339.10" y="270.5" width="0.70" height="12.6" fill="#3c3c3c"/><rect x="341.50" y="270.5" width="0.45" height="12.6" fill="#3c3c3c"/><rect x="342.55" y="270.5" width="0.55" height="12.6" fill="#f0f0f0"/><rect x="343.90" y="270.5" width="0.70" height="12.6" fill="#e8e8e8"/><rect x="345.90" y="270.5" width="1.00" height="12.6" fill="#d4d4d4"/><rect x="348.20" y="270.5" width="0.45" height="12.6" fill="#ffffff"/><rect x="349.25" y="270.5" width="0.45" height="12.6" fill="#e2e2e2"/><rect x="350.70" y="270.5" width="0.85" height="12.6" fill="#3c3c3c"/><rect x="352.15" y="270.5" width="0.45" height="12.6" fill="#e8e8e8"/><rect x="353.40" y="270.5" width="0.55" height="12.6" fill="#e2e2e2"/><rect x="355.65" y="270.5" width="0.70" height="12.6" fill="#e8e8e8"/><rect x="358.05" y="270.5" width="0.70" height="12.6" fill="#e8e8e8"/><rect x="359.35" y="270.5" width="0.45" height="12.6" fill="#e2e2e2"/><rect x="361.10" y="270.5" width="0.45" height="12.6" fill="#d4d4d4"/><rect x="363.25" y="270.5" width="0.55" height="12.6" fill="#ffffff"/><rect x="364.60" y="270.5" width="0.45" height="12.6" fill="#ffffff"/><rect x="365.65" y="270.5" width="0.55" height="12.6" fill="#3c3c3c"/><rect x="367.00" y="270.5" width="1.00" height="12.6" fill="#3c3c3c"/><rect x="368.60" y="270.5" width="0.85" height="12.6" fill="#e2e2e2"/><rect x="371.15" y="270.5" width="0.45" height="12.6" fill="#e8e8e8"/><rect x="372.20" y="270.5" width="1.00" height="12.6" fill="#e8e8e8"/><rect x="374.90" y="270.5" width="0.85" height="12.6" fill="#ffffff"/><rect x="377.05" y="270.5" width="0.45" height="12.6" fill="#3c3c3c"/><rect x="378.50" y="270.5" width="0.70" height="12.6" fill="#d4d4d4"/><rect x="380.00" y="270.5" width="0.70" height="12.6" fill="#f0f0f0"/><rect x="382.40" y="270.5" width="0.70" height="12.6" fill="#3c3c3c"/><rect x="384.10" y="270.5" width="0.85" height="12.6" fill="#505050"/><rect x="386.65" y="270.5" width="0.55" height="12.6" fill="#d4d4d4"/><rect x="388.90" y="270.5" width="0.55" height="12.6" fill="#d4d4d4"/><rect x="390.25" y="270.5" width="0.45" height="12.6" fill="#e8e8e8"/><rect x="392.40" y="270.5" width="1.00" height="12.6" fill="#d4d4d4"/><rect x="394.00" y="270.5" width="0.85" height="12.6" fill="#e8e8e8"/><rect x="395.45" y="270.5" width="0.45" height="12.6" fill="#505050"/><rect x="396.50" y="270.5" width="1.00" height="12.6" fill="#e8e8e8"/><rect x="398.80" y="270.5" width="0.55" height="12.6" fill="#e2e2e2"/><rect x="400.35" y="270.5" width="1.00" height="12.6" fill="#3c3c3c"/><rect x="403.05" y="270.5" width="0.55" height="12.6" fill="#f0f0f0"/><rect x="404.60" y="270.5" width="0.55" height="12.6" fill="#c6c6c6"/><rect x="405.75" y="270.5" width="1.00" height="12.6" fill="#e8e8e8"/><rect x="408.45" y="270.5" width="0.70" height="12.6" fill="#e8e8e8"/><rect x="409.75" y="270.5" width="0.70" height="12.6" fill="#e8e8e8"/><rect x="411.05" y="270.5" width="1.00" height="12.6" fill="#e8e8e8"/><rect x="412.85" y="270.5" width="0.45" height="12.6" fill="#3c3c3c"/><rect x="415.00" y="270.5" width="0.45" height="12.6" fill="#f0f0f0"/><rect x="416.05" y="270.5" width="1.00" height="12.6" fill="#e2e2e2"/><rect x="418.35" y="270.5" width="1.00" height="12.6" fill="#505050"/><rect x="420.65" y="270.5" width="0.55" height="12.6" fill="#f0f0f0"/><rect x="422.90" y="270.5" width="0.85" height="12.6" fill="#3c3c3c"/><rect x="425.45" y="270.5" width="0.55" height="12.6" fill="#ffffff"/><rect x="426.60" y="270.5" width="1.00" height="12.6" fill="#3c3c3c"/><rect x="429.30" y="270.5" width="0.70" height="12.6" fill="#c6c6c6"/><rect x="430.60" y="270.5" width="1.00" height="12.6" fill="#e8e8e8"/><rect x="433.30" y="270.5" width="0.70" height="12.6" fill="#d4d4d4"/><rect x="435.30" y="270.5" width="1.00" height="12.6" fill="#ffffff"/><rect x="437.10" y="270.5" width="0.55" height="12.6" fill="#d4d4d4"/><rect x="438.65" y="270.5" width="0.55" height="12.6" fill="#f0f0f0"/><rect x="439.80" y="270.5" width="0.85" height="12.6" fill="#c6c6c6"/><rect x="442.35" y="270.5" width="0.45" height="12.6" fill="#505050"/><rect x="443.40" y="270.5" width="0.55" height="12.6" fill="#c6c6c6"/><rect x="444.95" y="270.5" width="0.70" height="12.6" fill="#505050"/><rect x="446.65" y="270.5" width="0.70" height="12.6" fill="#d4d4d4"/><rect x="449.05" y="270.5" width="0.55" height="12.6" fill="#c6c6c6"/><rect x="450.40" y="270.5" width="1.00" height="12.6" fill="#c6c6c6"/><rect x="453.10" y="270.5" width="0.55" height="12.6" fill="#e2e2e2"/><rect x="455.35" y="270.5" width="1.00" height="12.6" fill="#e2e2e2"/><rect x="456.95" y="270.5" width="1.00" height="12.6" fill="#d4d4d4"/><rect x="458.75" y="270.5" width="0.45" height="12.6" fill="#e2e2e2"/><rect x="460.90" y="270.5" width="0.85" height="12.6" fill="#e8e8e8"/><rect x="462.35" y="270.5" width="0.70" height="12.6" fill="#3c3c3c"/><rect x="464.35" y="270.5" width="0.70" height="12.6" fill="#ffffff"/><rect x="466.05" y="270.5" width="0.70" height="12.6" fill="#505050"/><rect x="467.35" y="270.5" width="0.70" height="12.6" fill="#e2e2e2"/><rect x="469.35" y="270.5" width="0.85" height="12.6" fill="#e2e2e2"/><rect x="471.90" y="270.5" width="1.00" height="12.6" fill="#e2e2e2"/><rect x="473.90" y="270.5" width="1.00" height="12.6" fill="#e8e8e8"/><rect x="476.20" y="270.5" width="0.45" height="12.6" fill="#e8e8e8"/><rect x="478.35" y="270.5" width="0.45" height="12.6" fill="#e8e8e8"/><rect x="479.60" y="270.5" width="0.70" height="12.6" fill="#c6c6c6"/><rect x="482.00" y="270.5" width="0.70" height="12.6" fill="#ffffff"/><rect x="484.40" y="270.5" width="0.85" height="12.6" fill="#e2e2e2"/><rect x="486.95" y="270.5" width="0.55" height="12.6" fill="#505050"/><rect x="488.30" y="270.5" width="0.85" height="12.6" fill="#f0f0f0"/><rect x="489.75" y="270.5" width="0.45" height="12.6" fill="#3c3c3c"/><rect x="491.50" y="270.5" width="0.55" height="12.6" fill="#e2e2e2"/><rect x="493.35" y="270.5" width="1.00" height="12.6" fill="#505050"/><rect x="495.65" y="270.5" width="0.55" height="12.6" fill="#505050"/><rect x="497.50" y="270.5" width="0.45" height="12.6" fill="#c6c6c6"/><rect x="499.25" y="270.5" width="0.45" height="12.6" fill="#e2e2e2"/><rect x="501.40" y="270.5" width="0.55" height="12.6" fill="#d4d4d4"/><rect x="502.95" y="270.5" width="0.70" height="12.6" fill="#e8e8e8"/><rect x="504.65" y="270.5" width="0.55" height="12.6" fill="#3c3c3c"/><rect x="506.90" y="270.5" width="0.70" height="12.6" fill="#d4d4d4"/>
<rect x="313.0" y="270.5" width="195.8" height="12.6" fill="none" stroke="#2a2a2a" stroke-width="0.9"/>
<line x1="313.0" y1="283.8" x2="508.8" y2="283.8" stroke="#111" stroke-width="1.6"/>
<path d="M313.00 300.64 L313.98 300.46 L314.96 300.71 L315.94 300.91 L316.92 301.23 L317.89 301.06 L318.87 300.89 L319.85 300.61 L320.83 300.58 L321.81 300.98 L322.79 301.29 L323.77 301.17 L324.75 300.66 L325.73 300.66 L326.71 301.00 L327.69 301.24 L328.66 301.40 L329.64 301.67 L330.62 301.94 L331.60 301.50 L332.58 301.46 L333.56 301.72 L334.54 301.75 L335.52 301.69 L336.50 301.78 L337.48 302.20 L338.45 302.22 L339.43 302.10 L340.41 302.47 L341.39 302.75 L342.37 303.27 L343.35 303.50 L344.33 304.23 L345.31 304.64 L346.29 305.03 L347.26 305.12 L348.24 305.04 L349.22 305.04 L350.20 305.47 L351.18 305.88 L352.16 306.46 L353.14 307.11 L354.12 307.90 L355.10 307.94 L356.08 307.55 L357.06 306.31 L358.03 305.36 L359.01 304.74 L359.99 304.38 L360.97 304.05 L361.95 303.71 L362.93 303.76 L363.91 303.58 L364.89 303.66 L365.87 303.77 L366.85 304.03 L367.82 303.80 L368.80 303.95 L369.78 303.91 L370.76 303.90 L371.74 303.82 L372.72 303.51 L373.70 303.39 L374.68 303.44 L375.66 304.09 L376.63 303.96 L377.61 303.84 L378.59 303.53 L379.57 303.66 L380.55 304.06 L381.53 304.54 L382.51 304.59 L383.49 304.63 L384.47 305.10 L385.45 305.78 L386.43 306.03 L387.40 306.47 L388.38 306.46 L389.36 306.52 L390.34 306.41 L391.32 306.84 L392.30 306.94 L393.28 307.38 L394.26 307.38 L395.24 307.56 L396.22 307.74 L397.19 308.38 L398.17 308.86 L399.15 309.02 L400.13 309.05 L401.11 309.08 L402.09 309.29 L403.07 309.46 L404.05 309.51 L405.03 309.32 L406.00 309.28 L406.98 309.26 L407.96 309.57 L408.94 309.45 L409.92 309.28 L410.90 308.80 L411.88 308.70 L412.86 307.99 L413.84 307.34 L414.82 306.65 L415.80 306.30 L416.77 305.53 L417.75 305.19 L418.73 304.97 L419.71 305.77 L420.69 306.05 L421.67 306.45 L422.65 306.51 L423.63 307.01 L424.61 307.11 L425.58 307.56 L426.56 307.94 L427.54 308.46 L428.52 308.44 L429.50 308.02 L430.48 307.86 L431.46 307.27 L432.44 305.87 L433.42 305.50 L434.40 305.87 L435.38 305.31 L436.35 304.94 L437.33 306.03 L438.31 306.69 L439.29 305.89 L440.27 304.73 L441.25 304.39 L442.23 304.74 L443.21 305.12 L444.19 305.37 L445.16 304.97 L446.14 304.68 L447.12 304.76 L448.10 304.59 L449.08 304.50 L450.06 304.87 L451.04 305.00 L452.02 304.35 L453.00 303.95 L453.98 303.50 L454.96 302.72 L455.93 302.60 L456.91 303.00 L457.89 303.35 L458.87 303.32 L459.85 302.75 L460.83 302.09 L461.81 302.09 L462.79 302.16 L463.77 302.52 L464.75 302.94 L465.72 302.76 L466.70 301.79 L467.68 300.66 L468.66 301.33 L469.64 302.11 L470.62 301.61 L471.60 301.04 L472.58 301.30 L473.56 301.48 L474.54 301.18 L475.51 300.18 L476.49 299.48 L477.47 299.37 L478.45 299.31 L479.43 299.09 L480.41 298.60 L481.39 297.80 L482.37 297.17 L483.35 296.71 L484.32 296.52 L485.30 296.90 L486.28 296.54 L487.26 295.42 L488.24 295.09 L489.22 294.85 L490.20 295.23 L491.18 295.09 L492.16 294.18 L493.14 293.63 L494.12 293.42 L495.09 293.25 L496.07 293.42 L497.05 292.88 L498.03 292.12 L499.01 292.12 L499.99 291.75 L500.97 291.26 L501.95 290.73 L502.93 290.11 L503.90 290.01 L504.88 289.50 L505.86 288.80 L506.84 288.26 L507.82 287.70 L508.80 287.34" fill="none" stroke="#c2a8ef" stroke-width="1.9" stroke-linejoin="round"/>
<path d="M313.00 300.64 L313.98 300.46 L314.96 300.71 L315.94 300.91 L316.92 301.23 L317.89 301.06 L318.87 300.89 L319.85 300.61 L320.83 300.58 L321.81 300.98 L322.79 301.29 L323.77 301.18 L324.75 300.66 L325.73 300.66 L326.71 301.00 L327.69 301.25 L328.66 301.40 L329.64 301.68 L330.62 301.94 L331.60 301.51 L332.58 301.46 L333.56 301.73 L334.54 301.76 L335.52 301.70 L336.50 301.79 L337.48 302.21 L338.45 302.24 L339.43 302.12 L340.41 302.49 L341.39 302.76 L342.37 303.29 L343.35 303.52 L344.33 304.25 L345.31 304.66 L346.29 305.05 L347.26 305.15 L348.24 305.07 L349.22 305.06 L350.20 305.50 L351.18 305.91 L352.16 306.49 L353.14 307.14 L354.12 307.94 L355.10 307.98 L356.08 307.59 L357.06 306.35 L358.03 305.40 L359.01 304.79 L359.99 304.43 L360.97 304.10 L361.95 303.76 L362.93 303.81 L363.91 303.63 L364.89 303.72 L365.87 303.83 L366.85 304.10 L367.82 303.86 L368.80 304.02 L369.78 303.98 L370.76 303.97 L371.74 303.89 L372.72 303.59 L373.70 303.47 L374.68 303.52 L375.66 304.18 L376.63 304.04 L377.61 303.93 L378.59 303.63 L379.57 303.76 L380.55 304.16 L381.53 304.64 L382.51 304.70 L383.49 304.74 L384.47 305.21 L385.45 305.89 L386.43 306.15 L387.40 306.60 L388.38 306.59 L389.36 306.67 L390.34 306.57 L391.32 307.01 L392.30 307.14 L393.28 307.59 L394.26 307.62 L395.24 307.83 L396.22 308.03 L397.19 308.70 L398.17 309.22 L399.15 309.41 L400.13 309.47 L401.11 309.55 L402.09 309.79 L403.07 310.01 L404.05 310.10 L405.03 309.95 L406.00 309.95 L406.98 309.98 L407.96 310.33 L408.94 310.26 L409.92 310.14 L410.90 309.71 L411.88 309.62 L412.86 308.99 L413.84 308.41 L414.82 307.77 L415.80 307.48 L416.77 306.81 L417.75 306.66 L418.73 306.62 L419.71 307.28 L420.69 307.51 L421.67 308.18 L422.65 308.33 L423.63 308.93 L424.61 309.35 L425.58 309.97 L426.56 310.47 L427.54 311.01 L428.52 310.96 L429.50 310.79 L430.48 310.60 L431.46 310.19 L432.44 309.71 L433.42 309.80 L434.40 309.87 L435.38 309.71 L436.35 309.80 L437.33 310.27 L438.31 310.57 L439.29 310.60 L440.27 310.50 L441.25 310.51 L442.23 310.62 L443.21 310.62 L444.19 310.76 L445.16 310.87 L446.14 311.16 L447.12 311.28 L448.10 311.30 L449.08 311.37 L450.06 311.66 L451.04 312.24 L452.02 312.41 L453.00 312.57 L453.98 312.54 L454.96 312.25 L455.93 312.19 L456.91 312.38 L457.89 312.73 L458.87 312.87 L459.85 313.02 L460.83 312.99 L461.81 313.05 L462.79 313.19 L463.77 313.40 L464.75 313.73 L465.72 313.92 L466.70 313.69 L467.68 313.44 L468.66 313.79 L469.64 314.07 L470.62 314.24 L471.60 314.16 L472.58 314.32 L473.56 314.40 L474.54 314.45 L475.51 314.45 L476.49 314.58 L477.47 314.61 L478.45 314.72 L479.43 314.81 L480.41 314.95 L481.39 315.05 L482.37 315.09 L483.35 315.16 L484.32 315.21 L485.30 315.28 L486.28 315.37 L487.26 315.22 L488.24 315.37 L489.22 315.41 L490.20 315.50 L491.18 315.29 L492.16 315.26 L493.14 315.32 L494.12 315.39 L495.09 315.41 L496.07 315.38 L497.05 315.24 L498.03 315.07 L499.01 315.06 L499.99 315.19 L500.97 315.26 L501.95 315.25 L502.93 315.25 L503.90 315.22 L504.88 315.07 L505.86 315.03 L506.84 315.00 L507.82 315.00 L508.80 314.95" fill="none" stroke="#478a55" stroke-width="1.8" stroke-dasharray="2 1.7"/>
<path d="M313.00 361.00 L313.98 361.00 L314.96 361.00 L315.94 361.00 L316.92 361.00 L317.89 361.00 L318.87 361.00 L319.85 361.00 L320.83 361.00 L321.81 361.00 L322.79 361.00 L323.77 361.00 L324.75 361.00 L325.73 361.00 L326.71 361.00 L327.69 361.00 L328.66 361.00 L329.64 360.99 L330.62 360.99 L331.60 360.99 L332.58 360.99 L333.56 360.99 L334.54 360.99 L335.52 360.99 L336.50 360.99 L337.48 360.99 L338.45 360.99 L339.43 360.99 L340.41 360.99 L341.39 360.98 L342.37 360.98 L343.35 360.98 L344.33 360.98 L345.31 360.98 L346.29 360.98 L347.26 360.98 L348.24 360.98 L349.22 360.97 L350.20 360.97 L351.18 360.97 L352.16 360.97 L353.14 360.97 L354.12 360.97 L355.10 360.96 L356.08 360.96 L357.06 360.96 L358.03 360.96 L359.01 360.96 L359.99 360.95 L360.97 360.95 L361.95 360.95 L362.93 360.95 L363.91 360.95 L364.89 360.94 L365.87 360.94 L366.85 360.94 L367.82 360.94 L368.80 360.93 L369.78 360.93 L370.76 360.93 L371.74 360.93 L372.72 360.92 L373.70 360.92 L374.68 360.92 L375.66 360.91 L376.63 360.91 L377.61 360.91 L378.59 360.91 L379.57 360.90 L380.55 360.90 L381.53 360.90 L382.51 360.89 L383.49 360.89 L384.47 360.89 L385.45 360.88 L386.43 360.88 L387.40 360.87 L388.38 360.87 L389.36 360.85 L390.34 360.84 L391.32 360.82 L392.30 360.80 L393.28 360.78 L394.26 360.76 L395.24 360.73 L396.22 360.70 L397.19 360.67 L398.17 360.64 L399.15 360.61 L400.13 360.57 L401.11 360.53 L402.09 360.49 L403.07 360.45 L404.05 360.41 L405.03 360.37 L406.00 360.33 L406.98 360.28 L407.96 360.23 L408.94 360.19 L409.92 360.14 L410.90 360.09 L411.88 360.04 L412.86 359.99 L413.84 359.92 L414.82 359.86 L415.80 359.78 L416.77 359.71 L417.75 359.63 L418.73 359.54 L419.71 359.45 L420.69 359.36 L421.67 359.26 L422.65 359.15 L423.63 359.05 L424.61 358.94 L425.58 358.83 L426.56 358.71 L427.54 358.59 L428.52 358.47 L429.50 358.34 L430.48 358.22 L431.46 358.09 L432.44 357.96 L433.42 357.82 L434.40 357.69 L435.38 357.55 L436.35 357.41 L437.33 357.26 L438.31 357.10 L439.29 356.93 L440.27 356.76 L441.25 356.58 L442.23 356.39 L443.21 356.20 L444.19 355.99 L445.16 355.79 L446.14 355.58 L447.12 355.36 L448.10 355.14 L449.08 354.91 L450.06 354.68 L451.04 354.45 L452.02 354.21 L453.00 353.97 L453.98 353.72 L454.96 353.48 L455.93 353.23 L456.91 352.98 L457.89 352.73 L458.87 352.48 L459.85 352.23 L460.83 351.97 L461.81 351.71 L462.79 351.43 L463.77 351.16 L464.75 350.87 L465.72 350.58 L466.70 350.28 L467.68 349.98 L468.66 349.67 L469.64 349.36 L470.62 349.04 L471.60 348.73 L472.58 348.41 L473.56 348.08 L474.54 347.76 L475.51 347.43 L476.49 347.11 L477.47 346.78 L478.45 346.45 L479.43 346.11 L480.41 345.77 L481.39 345.42 L482.37 345.07 L483.35 344.72 L484.32 344.36 L485.30 344.01 L486.28 343.65 L487.26 343.30 L488.24 342.94 L489.22 342.58 L490.20 342.22 L491.18 341.85 L492.16 341.49 L493.14 341.12 L494.12 340.76 L495.09 340.38 L496.07 340.01 L497.05 339.64 L498.03 339.26 L499.01 338.88 L499.99 338.50 L500.97 338.12 L501.95 337.73 L502.93 337.35 L503.90 336.96 L504.88 336.57 L505.86 336.17 L506.84 335.78 L507.82 335.38 L508.80 334.99" fill="none" stroke="#a51310" stroke-width="1.8" stroke-dasharray="2 2.1"/>
<line x1="423.14" y1="285.1" x2="423.14" y2="361" stroke="#e0cfb4" stroke-width="0.8"/>
<line x1="477.47" y1="285.1" x2="477.47" y2="361" stroke="#a3a8c0" stroke-width="0.8"/>
<text x="412" y="356" font-family='"Liberation Sans", "DejaVu Sans", sans-serif' font-weight="400" font-size="6.6" fill="#dba869" text-anchor="start" >CT</text>
<text x="480.3" y="359.6" font-family='"Liberation Sans", "DejaVu Sans", sans-serif' font-weight="700" font-size="7.0" fill="#1f3864" text-anchor="start" >AT50</text>
<text x="311.5" y="363.40" font-family='"DejaVu Sans", "Liberation Sans", sans-serif' font-size="6.85" fill="#3c3c3c" text-anchor="end">0.0</text>
<text x="311.5" y="351.30" font-family='"DejaVu Sans", "Liberation Sans", sans-serif' font-size="6.85" fill="#3c3c3c" text-anchor="end">0.2</text>
<text x="311.5" y="339.20" font-family='"DejaVu Sans", "Liberation Sans", sans-serif' font-size="6.85" fill="#3c3c3c" text-anchor="end">0.4</text>
<text x="311.5" y="327.10" font-family='"DejaVu Sans", "Liberation Sans", sans-serif' font-size="6.85" fill="#3c3c3c" text-anchor="end">0.6</text>
<text x="311.5" y="315.00" font-family='"DejaVu Sans", "Liberation Sans", sans-serif' font-size="6.85" fill="#3c3c3c" text-anchor="end">0.8</text>
<text x="311.5" y="302.90" font-family='"DejaVu Sans", "Liberation Sans", sans-serif' font-size="6.85" fill="#3c3c3c" text-anchor="end">1.0</text>
<text x="311.5" y="290.80" font-family='"DejaVu Sans", "Liberation Sans", sans-serif' font-size="6.85" fill="#3c3c3c" text-anchor="end">1.2</text>
<text x="313.00" y="368.5" font-family='"DejaVu Sans", "Liberation Sans", sans-serif' font-size="6.85" fill="#3c3c3c" text-anchor="middle">0</text>
<text x="337.48" y="368.5" font-family='"DejaVu Sans", "Liberation Sans", sans-serif' font-size="6.85" fill="#3c3c3c" text-anchor="middle">100</text>
<text x="361.95" y="368.5" font-family='"DejaVu Sans", "Liberation Sans", sans-serif' font-size="6.85" fill="#3c3c3c" text-anchor="middle">200</text>
<text x="386.43" y="368.5" font-family='"DejaVu Sans", "Liberation Sans", sans-serif' font-size="6.85" fill="#3c3c3c" text-anchor="middle">300</text>
<text x="410.90" y="368.5" font-family='"DejaVu Sans", "Liberation Sans", sans-serif' font-size="6.85" fill="#3c3c3c" text-anchor="middle">400</text>
<text x="435.38" y="368.5" font-family='"DejaVu Sans", "Liberation Sans", sans-serif' font-size="6.85" fill="#3c3c3c" text-anchor="middle">500</text>
<text x="459.85" y="368.5" font-family='"DejaVu Sans", "Liberation Sans", sans-serif' font-size="6.85" fill="#3c3c3c" text-anchor="middle">600</text>
<text x="484.32" y="368.5" font-family='"DejaVu Sans", "Liberation Sans", sans-serif' font-size="6.85" fill="#3c3c3c" text-anchor="middle">700</text>
<text x="508.80" y="368.5" font-family='"DejaVu Sans", "Liberation Sans", sans-serif' font-size="6.85" fill="#3c3c3c" text-anchor="middle">800</text>
<text transform="translate(295.2,317) rotate(-90)" font-family='"Liberation Sans", "DejaVu Sans", sans-serif' font-weight="700" font-size="10.1" fill="#2a2a2a" stroke="#2a2a2a" stroke-width="0.2" text-anchor="middle" textLength="90" lengthAdjust="spacingAndGlyphs">Relative tumor size</text>
<text x="378" y="381" font-family='"Liberation Sans", "DejaVu Sans", sans-serif' font-weight="700" font-size="9.85" fill="#333" text-anchor="start" >Time (days)</text>
</svg>
</body></html>
